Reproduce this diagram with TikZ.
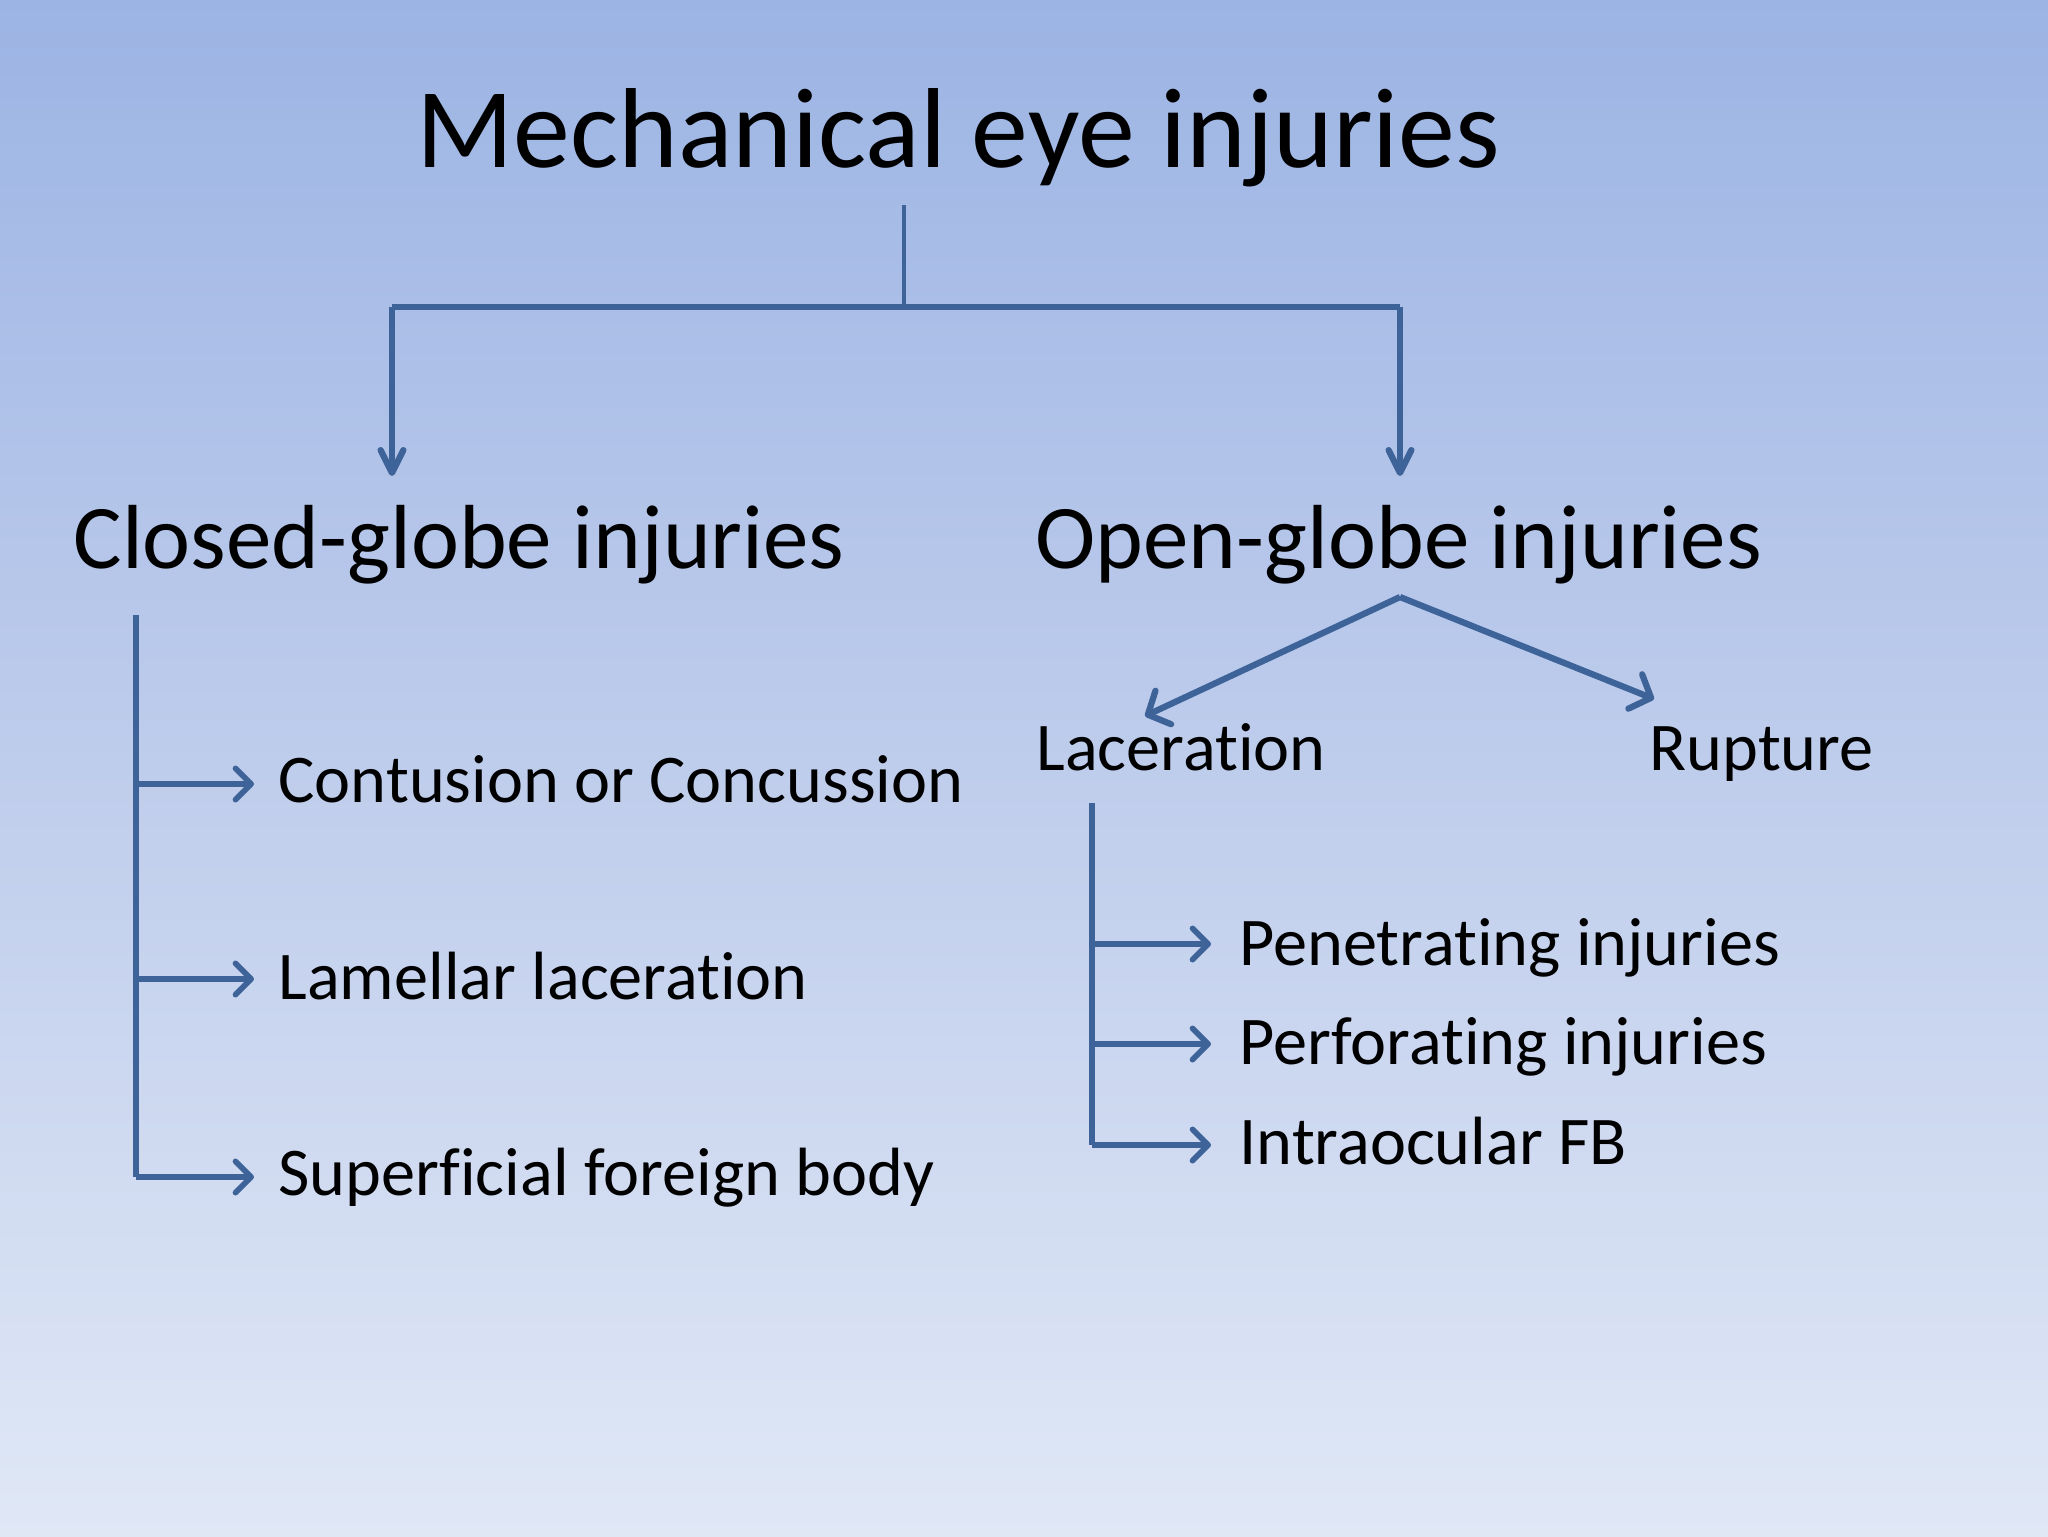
\documentclass[tikz,border=0pt]{standalone}
\usepackage{fontspec}
\setmainfont{Carlito}[Ligatures=NoCommon]
\usetikzlibrary{arrows.meta}
\definecolor{bgtop}{HTML}{9CB4E4}
\definecolor{bgmid}{HTML}{BFCDEC}
\definecolor{bgbot}{HTML}{E0E8F6}
\definecolor{linec}{HTML}{3E6399}
\tikzset{
  txt/.style={anchor=base west,inner sep=0pt,text=black},
  titletxt/.style={txt,font=\fontsize{40}{48}\selectfont},
  headtxt/.style={txt,font=\fontsize{32}{38}\selectfont},
  itemtxt/.style={txt,font=\fontsize{24}{29}\selectfont},
  tree/.style={draw=linec,line width=2.3pt},
  bigarrow/.style={draw=linec,line width=2.2pt,-{Straight Barb[length=8pt,width=8pt,line width=2.2pt,round]}},
  smallarrow/.style={draw=linec,line width=1.8pt,-{Straight Barb[length=5.5pt,width=11pt,line width=2pt,round]}},
  diagarrow/.style={draw=linec,line width=2.2pt,-{Straight Barb[length=6pt,width=13pt,line width=2.2pt,round]}}
}
\begin{document}
\begin{tikzpicture}[x=0.3516pt,y=-0.3516pt]
\useasboundingbox (0,0) rectangle (2048,1536);
\shade[top color=bgtop,bottom color=bgbot,middle color=bgmid] (0,0) rectangle (2048,1536);
% texts
\node[titletxt] (title) at (416,167) {Mechanical eye injuries};
\node[headtxt] (closed) at (73,568) {Closed-globe injuries};
\node[headtxt] (open) at (1035,568) {Open-globe injuries};
\node[itemtxt] (contusion) at (278,802) {Contusion or Concussion};
\node[itemtxt] (lamellar) at (278,999) {Lamellar laceration};
\node[itemtxt] (superficial) at (278,1195) {Superficial foreign body};
\node[itemtxt] (laceration) at (1036,770) {Laceration};
\node[itemtxt] (rupture) at (1649,770) {Rupture};
\node[itemtxt] (penetrating) at (1239,965) {Penetrating injuries};
\node[itemtxt] (perforating) at (1239,1064) {Perforating injuries};
\node[itemtxt] (intraocular) at (1239,1164) {Intraocular FB};
% junction coordinates
\coordinate (stemtop) at (904,205);
\coordinate (stembot) at (904,307);
\coordinate (jl) at (392,307);
\coordinate (jr) at (1400,307);
\coordinate (tl) at (392,476);
\coordinate (tr) at (1400,476);
\coordinate (ltop) at (136,615);
\coordinate (l1) at (136,784);
\coordinate (l2) at (136,979);
\coordinate (l3) at (136,1177);
\coordinate (a1) at (254,784);
\coordinate (a2) at (254,979);
\coordinate (a3) at (254,1177);
\coordinate (apex) at (1400,597);
\coordinate (lacTip) at (1145,716);
\coordinate (rupTip) at (1654,699);
\coordinate (rtop) at (1092,803);
\coordinate (r1) at (1092,944);
\coordinate (r2) at (1092,1044);
\coordinate (r3) at (1092,1145);
\coordinate (b1) at (1211,944);
\coordinate (b2) at (1211,1044);
\coordinate (b3) at (1211,1145);
% connectors
\draw[draw=linec,line width=1.7pt] (stemtop) -- (stembot);
\draw[tree] (jl) -- (jr);
\draw[bigarrow] (jl) -- (tl);
\draw[bigarrow] (jr) -- (tr);
\draw[tree] (ltop) -- (l3);
\draw[smallarrow] (l1) -- (a1);
\draw[smallarrow] (l2) -- (a2);
\draw[smallarrow] (l3) -- (a3);
\draw[diagarrow] (apex) -- (lacTip);
\draw[diagarrow] (apex) -- (rupTip);
\draw[tree] (rtop) -- (r3);
\draw[smallarrow] (r1) -- (b1);
\draw[smallarrow] (r2) -- (b2);
\draw[smallarrow] (r3) -- (b3);
\end{tikzpicture}
\end{document}
